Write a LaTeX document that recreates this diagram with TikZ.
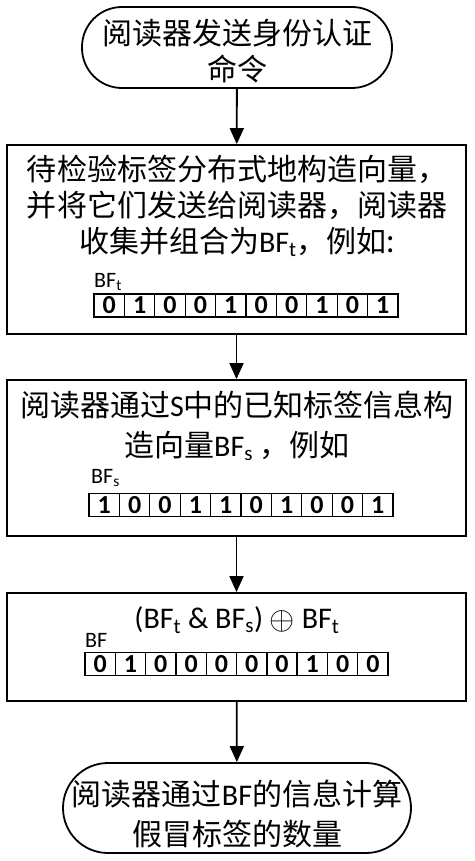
\documentclass[tikz,border=0pt]{standalone}
\usepackage{fontspec}
\setmainfont{Noto Sans CJK SC}
\newfontfamily\lat{Carlito}
\usetikzlibrary{arrows.meta}
\newcommand{\bfsub}[1]{{\lat BF\textsubscript{#1}}}
\begin{document}
\begin{tikzpicture}[x=1pt,y=-1pt,
  frame/.style={draw,line width=1.8pt,inner sep=0pt},
  term/.style={frame,rounded corners=40pt},
  txt/.style={align=center,inner sep=0pt,font=\fontsize{30}{36}\selectfont},
  bit/.style={draw,line width=1.3pt,minimum width=30.4pt,minimum height=23pt,inner sep=0pt,font=\lat\bfseries\fontsize{26}{26}\selectfont},
  lbl/.style={anchor=west,inner sep=0pt,font=\lat\fontsize{22}{22}\selectfont},
  arr/.style={-{Triangle[length=16pt,width=14pt]},line width=1.8pt}]
\useasboundingbox[fill=white] (0,0) rectangle (474,861);
% shapes
\node[term,minimum width=310pt,minimum height=81pt] (t1) at (237,47.5) {};
\node[frame,minimum width=459pt,minimum height=189pt] (b2) at (236.5,239.5) {};
\node[frame,minimum width=459pt,minimum height=156pt] (b3) at (236.5,458) {};
\node[frame,minimum width=459pt,minimum height=108pt] (b4) at (236.5,647) {};
\node[term,rounded corners=45pt,minimum width=348pt,minimum height=90pt] (t5) at (237,808) {};
% texts
\node[txt] (x1) at (237,51) {阅读器发送身份认证\\命令};
\node[txt] (x2) at (237,206) {待检验标签分布式地构造向量，\\并将它们发送给阅读器，阅读器\\收集并组合为\bfsub{t}，例如:};
\node[txt,font=\fontsize{30}{40}\selectfont] (x3) at (237,426) {阅读器通过{\lat S}中的已知标签信息构\\造向量\bfsub{s}{\lat\ }，例如};
\node[txt] (x4) at (237,620) {{\lat (BF\textsubscript{t} \& BF\textsubscript{s}) \raisebox{-1pt}{\scalebox{1.3}{$\oplus$}} BF\textsubscript{t}}};
\node[txt,font=\fontsize{30}{40}\selectfont] (x5) at (237,814) {阅读器通过{\lat BF}的信息计算\\假冒标签的数量};
% bit arrays
\node[lbl] (l2) at (94,282) {BF\textsubscript{t}};
\foreach \b [count=\i] in {0,1,0,0,1,0,0,1,0,1}
  \node[bit] (p\i) at ({94+15.2+(\i-1)*30.4},305.5) {\b};
\node[lbl] (l3) at (91,478) {BF\textsubscript{s}};
\foreach \b [count=\i] in {1,0,0,1,1,0,1,0,0,1}
  \node[bit] (q\i) at ({89+15.2+(\i-1)*30.4},505) {\b};
\node[lbl] (l4) at (85,640) {BF};
\foreach \b [count=\i] in {0,1,0,0,0,0,0,1,0,0}
  \node[bit] (r\i) at ({85+15.2+(\i-1)*30.3},664) {\b};
% arrows
\draw[arr] (t1) -- (b2);
\draw[arr] (b2) -- (b3);
\draw[arr] (b3) -- (b4);
\draw[arr] (b4) -- (t5);
\end{tikzpicture}
\end{document}
